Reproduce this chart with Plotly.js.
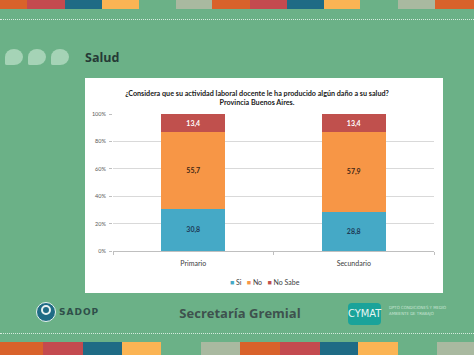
<!DOCTYPE html>
<html>
<head>
<meta charset="utf-8">
<script src="https://cdn.plot.ly/plotly-3.0.1.min.js"></script>
<style>
  html, body { margin:0; padding:0; }
  body { width:474px; height:355px; background:#6bb187; position:relative; overflow:hidden; font-family:"Open Sans", sans-serif; }
  .abs { position:absolute; }
  #chart { position:absolute; left:0; top:0; width:474px; height:355px; z-index:2; }
</style>
</head>
<body>
<div id="deco"></div>
<div id="chart"></div>
<script>
// ---- data ----
const categories = ["Primario", "Secundario"];
const seriesNames = ["Si", "No", "No Sabe"];
const si = [30.8, 28.8];
const no = [55.7, 57.9];
const noSabe = [13.4, 13.4];
const yTicks = [0, 20, 40, 60, 80, 100];
const yTickLabels = ["0%", "20%", "40%", "60%", "80%", "100%"];
const chartTitle = "¿Considera que su actividad laboral docente le ha producido algún daño a su salud?<br>Provincia Buenos Aires.";

// ---- decorations (slide) ----
const G = "#6bb187", OR = "#d9622b", RD = "#c44a4f", TL = "#1f6b85", YL = "#fbb454", GR = "#a9b9a0";
const topStripe = [[0,27,OR],[27,65,RD],[65,102,TL],[102,139,YL],[139,176,G],[176,212,GR],[212,250,OR],[250,287,RD],[287,324,TL],[324,360,YL],[360,398,G],[398,435,GR],[435,474,OR]];
const botStripe = [[0,43,OR],[43,83,RD],[83,122,TL],[122,161,YL],[161,201,G],[201,240,GR],[240,280,OR],[280,320,RD],[320,358,TL],[358,398,YL],[398,437,G],[437,474,GR]];
const deco = document.getElementById("deco");
function box(l, t, w, h, css) {
  const d = document.createElement("div");
  d.className = "abs";
  d.style.cssText = `left:${l}px;top:${t}px;width:${w}px;height:${h}px;` + (css || "");
  deco.appendChild(d);
  return d;
}
topStripe.forEach(s => box(s[0], 0, s[1]-s[0], 9, `background:${s[2]};`));
botStripe.forEach(s => box(s[0], 342, s[1]-s[0], 13, `background:${s[2]};`));
box(0, 19, 474, 0, "border-top:1px dotted #d6ebde;");
box(0, 333, 474, 0, "border-top:1px dotted #d6ebde;");
// bubbles
[5, 28, 51].forEach(x => {
  box(x, 49, 18, 16, "background:#a5d3b6;border-radius:50% 50% 50% 10%;");
});
const salud = box(85, 49, 60, 18, "font-family:'Open Sans',sans-serif;font-weight:bold;font-size:12.5px;color:#263a36;line-height:18px;");
salud.textContent = "Salud";
// white chart box
box(85, 78, 358, 215, "background:#ffffff;");
// footer
box(36, 302, 20, 20, "border-radius:50%;background:#1f6b85;border:1px solid #e8f2f0;box-sizing:border-box;");
box(41, 305, 10, 10, "border-radius:50%;border:2px solid #e8f2f0;box-sizing:border-box;");
const sadop = box(59, 305, 50, 14, "font-family:'DejaVu Sans',sans-serif;font-weight:bold;font-size:9px;color:#2f4f4a;letter-spacing:1px;line-height:14px;");
sadop.textContent = "SADOP";
const sec = box(170, 304, 140, 18, "font-family:'Open Sans',sans-serif;font-weight:bold;font-size:13px;color:#3e524e;line-height:18px;text-align:center;");
sec.textContent = "Secretaría Gremial";
const cym = box(348, 303, 33, 22, "background:#1aa39a;border-radius:4px;color:#e9f6f3;font-family:'Liberation Sans Narrow','DejaVu Sans Condensed',sans-serif;font-size:11px;line-height:22px;text-align:center;");
cym.textContent = "CYMAT";
const dpto = box(389, 305, 80, 16, "font-family:'DejaVu Sans Condensed',sans-serif;font-size:4.3px;color:#c7e4d3;line-height:6px;");
dpto.innerHTML = "DPTO CONDICIONES Y MEDIO<br>AMBIENTE DE TRABAJO";

// ---- chart ----
const colors = ["#45a9c6", "#f79646", "#c0504d"];
const textColors = ["#1f3b57", "#3b2716", "#ffffff"];
const vals = [si, no, noSabe];
const traces = vals.map((v, i) => ({
  type: "bar",
  name: seriesNames[i],
  x: categories,
  y: v,
  marker: { color: colors[i] },
  texttemplate: "%{y:.1f}",
  textposition: "inside",
  insidetextanchor: "middle",
  textangle: 0,
  textfont: { family: "Lato, 'Open Sans', sans-serif", size: 7, color: textColors[i], weight: "bold" },
  hoverinfo: "skip",
  showlegend: false
}));

// compact legend built from series names and colours
const legendText = seriesNames.map((n, i) =>
  `<span style="color:${colors[i]}">■</span> ${n}`).join("   ");

const layout = {
  width: 474, height: 355,
  margin: { l: 113, r: 40, t: 114, b: 104 },
  paper_bgcolor: "rgba(0,0,0,0)",
  plot_bgcolor: "rgba(0,0,0,0)",
  barmode: "stack",
  bargap: 0.6,
  separators: ",.",
  showlegend: false,
  font: { family: "Lato, 'Open Sans', sans-serif", color: "#595959" },
  title: {
    text: chartTitle,
    font: { family: "Lato, 'Open Sans', sans-serif", size: 7.2, color: "#1a1a1a", weight: "bold" },
    x: 257/474, xref: "container", xanchor: "center",
    y: 1 - 95.5/355, yref: "container", yanchor: "middle"
  },
  xaxis: {
    type: "category",
    tickfont: { size: 7, color: "#404040" },
    showgrid: false,
    showline: true, linecolor: "#bfbfbf", linewidth: 1,
    ticks: "outside", ticklen: 3, tickcolor: "#bfbfbf",
    tickson: "boundaries",
    ticklabelstandoff: 6,
    fixedrange: true
  },
  yaxis: {
    range: [0, 100],
    tickvals: yTicks,
    ticktext: yTickLabels,
    tickfont: { size: 5.5, color: "#595959" },
    showgrid: true, gridcolor: "#d9d9d9", gridwidth: 1,
    zeroline: false,
    showline: false,
    ticks: "outside", ticklen: 3, tickcolor: "#bfbfbf",
    ticklabelstandoff: 2,
    fixedrange: true
  },
  annotations: [{
    text: legendText,
    xref: "paper", yref: "paper",
    x: (265 - 113) / 321, xanchor: "center",
    y: (251 - 282) / 137, yanchor: "middle",
    showarrow: false,
    font: { family: "Lato, 'Open Sans', sans-serif", size: 7, color: "#404040" }
  }]
};

Plotly.newPlot("chart", traces, layout, { displayModeBar: false, staticPlot: true });
</script>
</body>
</html>
